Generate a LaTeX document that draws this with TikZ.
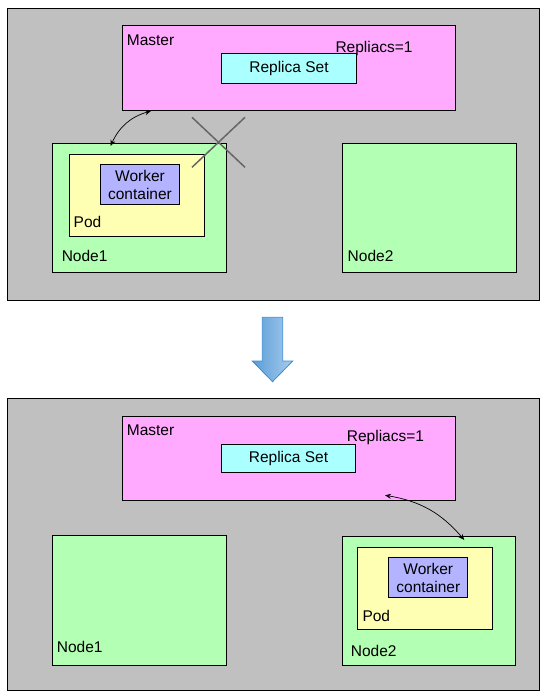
\documentclass[tikz,border=0pt]{standalone}
\usepackage{fontspec}
\setmainfont{Liberation Sans}
\usetikzlibrary{arrows.meta,calc}
\definecolor{panelgray}{HTML}{C0C0C0}
\definecolor{masterpink}{HTML}{FFAAFF}
\definecolor{rscyan}{HTML}{AAFFFF}
\definecolor{nodegreen}{HTML}{B3FFB3}
\definecolor{podyellow}{HTML}{FFFFB3}
\definecolor{workerblue}{HTML}{B3B3FF}
\definecolor{crossgray}{HTML}{666666}
\definecolor{arrowblue}{HTML}{3C8CD2}

\begin{document}
\begin{tikzpicture}[x=1pt,y=-1pt]
            \tikzset{box/.style = {draw=black, line width=1pt, inner sep=0pt, anchor=north west, align=center, font=\fontsize{15.5}{18}\selectfont}}
            \tikzset{lbl/.style = {inner sep=0pt, anchor=base west, font=\fontsize{15.5}{18}\selectfont}}
            \tikzset{edge/.style = {{Stealth[length=6pt,width=5pt]}-{Stealth[length=6pt,width=5pt]}, line width=0.7pt}}

            \useasboundingbox (0,0) rectangle (547,698);

            % before: pod on Node1
            \node[box, fill=panelgray, minimum width=532pt, minimum height=292pt] (panelA) at (7.3,8.3) {};
            \node[box, fill=masterpink, minimum width=333pt, minimum height=84.5pt] (masterA) at (122,25.5) {};
            \node[box, fill=rscyan, minimum width=135pt, minimum height=30pt] (rsA) at (221,53.3) {Replica Set};
            \node[lbl] (mlA) at (126.7,46) {Master};
            \node[lbl] (replA) at (335.3,52.3) {Repliacs=1};
            \node[box, fill=nodegreen, minimum width=174pt, minimum height=129.7pt] (nodeoneA) at (52,142.7) {};
            \node[box, fill=nodegreen, minimum width=174pt, minimum height=129.7pt] (nodetwoA) at (342,142.7) {};
            \node[box, fill=podyellow, minimum width=135.4pt, minimum height=82pt] (podA) at (68.6,154.3) {};
            \node[box, fill=workerblue, minimum width=79.4pt, minimum height=40pt] (workerA) at (99.8,164.3) {Worker\\container};
            \node[lbl] (plA) at (73.5,227.7) {Pod};
            \node[lbl] (n1lA) at (61.6,261.7) {Node1};
            \node[lbl] (n2lA) at (347.5,261.7) {Node2};

            % lost link to Node1
            \draw[crossgray, line width=1.5pt] (192,117.3) -- (245,167.3);
            \draw[crossgray, line width=1.5pt] (192,167.3) -- (245,117.3);
            \coordinate (a1) at (151,111);
            \coordinate (a2) at (110.6,146);
            \draw[edge] (a1) to[bend right=25] (a2);

            % down arrow
            \shade[left color=arrowblue!85, right color=arrowblue!45, draw=arrowblue, line width=0.8pt]
              (262.3,317.3) -- (282.7,317.3) -- (282.7,361) -- (292.7,361) -- (272.5,381.7) -- (252.3,361) -- (262.3,361) -- cycle;

            % after: pod on Node2
            \node[box, fill=panelgray, minimum width=532pt, minimum height=291.7pt] (panelB) at (7.3,398.3) {};
            \node[box, fill=masterpink, minimum width=333.3pt, minimum height=84.5pt] (masterB) at (121.5,415.5) {};
            \node[box, fill=rscyan, minimum width=133.4pt, minimum height=28pt] (rsB) at (221.3,444.3) {Replica Set};
            \node[lbl] (mlB) at (126.7,435.7) {Master};
            \node[lbl] (replB) at (346.7,441.7) {Repliacs=1};
            \node[box, fill=nodegreen, minimum width=174.2pt, minimum height=130pt] (nodeoneB) at (51.5,535.4) {};
            \node[box, fill=nodegreen, minimum width=173.6pt, minimum height=129.5pt] (nodetwoB) at (341.7,535.7) {};
            \node[box, fill=podyellow, minimum width=135pt, minimum height=82pt] (podB) at (357.3,547.3) {};
            \node[box, fill=workerblue, minimum width=79pt, minimum height=40pt] (workerB) at (388.3,557.3) {Worker\\container};
            \node[lbl] (plB) at (362.3,621.7) {Pod};
            \node[lbl] (n1lB) at (56.7,652.3) {Node1};
            \node[lbl] (n2lB) at (350.7,656) {Node2};

            \coordinate (b1) at (385,495.3);
            \coordinate (b2) at (464.3,540);
            \draw[edge] (b1) to[bend left=20] (b2);

\end{tikzpicture}
\end{document}
